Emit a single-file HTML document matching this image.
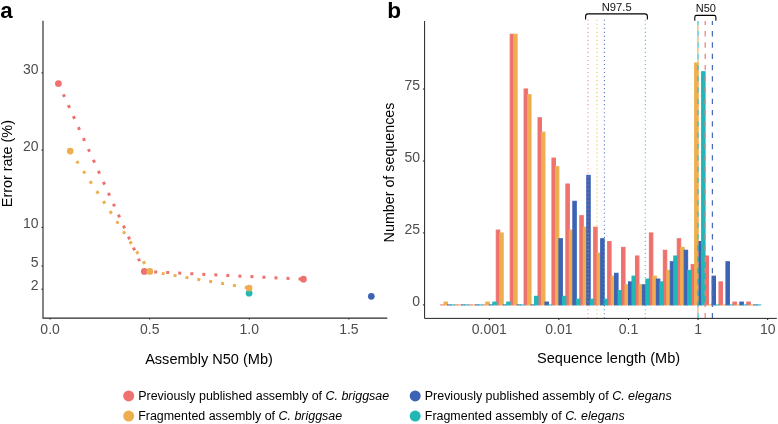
<!DOCTYPE html>
<html lang="en"><head><meta charset="utf-8"><title>Figure</title>
<style>html,body{margin:0;padding:0;background:#fff}svg{display:block}text{font-family:"Liberation Sans",Arial,Helvetica,sans-serif}</style></head><body>
<svg width="778" height="424" viewBox="0 0 778 424">
<rect width="778" height="424" fill="#fff"/>
<text x="0.2" y="17.7" font-size="22.3" font-weight="bold" fill="#000">a</text>
<text x="387.3" y="17.6" font-size="22.6" font-weight="bold" fill="#000">b</text>
<path d="M43 20.8V318.1H387.3" fill="none" stroke="#2a2a2a" stroke-width="1.15"/>
<path d="M41.4 72.9H43" stroke="#2a2a2a" stroke-width="1"/>
<text x="38.6" y="73.8" font-size="14" text-anchor="end" fill="#4d4d4d">30</text>
<path d="M41.4 150.1H43" stroke="#2a2a2a" stroke-width="1"/>
<text x="38.6" y="151.0" font-size="14" text-anchor="end" fill="#4d4d4d">20</text>
<path d="M41.4 227.4H43" stroke="#2a2a2a" stroke-width="1"/>
<text x="38.6" y="228.3" font-size="14" text-anchor="end" fill="#4d4d4d">10</text>
<path d="M41.4 266.0H43" stroke="#2a2a2a" stroke-width="1"/>
<text x="38.6" y="266.9" font-size="14" text-anchor="end" fill="#4d4d4d">5</text>
<path d="M41.4 289.2H43" stroke="#2a2a2a" stroke-width="1"/>
<text x="38.6" y="290.1" font-size="14" text-anchor="end" fill="#4d4d4d">2</text>
<path d="M50.1 318V319.6" stroke="#2a2a2a" stroke-width="1"/>
<text x="50.1" y="334.3" font-size="14" text-anchor="middle" fill="#4d4d4d">0.0</text>
<path d="M149.7 318V319.6" stroke="#2a2a2a" stroke-width="1"/>
<text x="149.7" y="334.3" font-size="14" text-anchor="middle" fill="#4d4d4d">0.5</text>
<path d="M249.3 318V319.6" stroke="#2a2a2a" stroke-width="1"/>
<text x="249.3" y="334.3" font-size="14" text-anchor="middle" fill="#4d4d4d">1.0</text>
<path d="M348.9 318V319.6" stroke="#2a2a2a" stroke-width="1"/>
<text x="348.9" y="334.3" font-size="14" text-anchor="middle" fill="#4d4d4d">1.5</text>
<text transform="translate(12.4 207.2) rotate(-90)" font-size="14.4" fill="#000">Error rate (%)</text>
<text x="209" y="363.6" font-size="14.55" text-anchor="middle" fill="#000">Assembly N50 (Mb)</text>
<path d="M58.4 83.5L144.3 271.4L303.4 279.2" fill="none" stroke="#EF716E" stroke-width="3" stroke-dasharray="3 9.04" stroke-dashoffset="0.2"/>
<path d="M70.2 151.1L149.8 271.4L249.1 288" fill="none" stroke="#EEAE50" stroke-width="3" stroke-dasharray="3 9.04" stroke-dashoffset="0.2"/>
<circle cx="58.4" cy="83.5" r="3.35" fill="#EF716E"/>
<circle cx="144.3" cy="271.4" r="3.35" fill="#EF716E"/>
<circle cx="303.4" cy="279.2" r="3.35" fill="#EF716E"/>
<circle cx="371.3" cy="296.3" r="3.35" fill="#3C63B4"/>
<circle cx="249.1" cy="293.2" r="3.35" fill="#21B7B7"/>
<circle cx="70.2" cy="151.1" r="3.35" fill="#EEAE50"/>
<circle cx="149.8" cy="271.4" r="3.35" fill="#EEAE50"/>
<circle cx="249.1" cy="288.0" r="3.35" fill="#EEAE50"/>
<g stroke-width="1">
<rect x="440.58" y="304.91" width="3.48" height="0.02" fill="#EF716E" stroke="#EF716E"/>
<rect x="454.50" y="304.91" width="3.48" height="0.02" fill="#EF716E" stroke="#EF716E"/>
<rect x="468.42" y="304.91" width="3.48" height="0.02" fill="#EF716E" stroke="#EF716E"/>
<rect x="482.34" y="304.91" width="3.48" height="0.02" fill="#EF716E" stroke="#EF716E"/>
<rect x="496.26" y="230.06" width="3.48" height="74.87" fill="#EF716E" stroke="#EF716E"/>
<rect x="510.18" y="34.25" width="3.48" height="270.68" fill="#EF716E" stroke="#EF716E"/>
<rect x="524.10" y="88.96" width="3.48" height="215.97" fill="#EF716E" stroke="#EF716E"/>
<rect x="538.02" y="117.76" width="3.48" height="187.17" fill="#EF716E" stroke="#EF716E"/>
<rect x="551.94" y="158.07" width="3.48" height="146.86" fill="#EF716E" stroke="#EF716E"/>
<rect x="565.86" y="183.99" width="3.48" height="120.94" fill="#EF716E" stroke="#EF716E"/>
<rect x="579.78" y="215.66" width="3.48" height="89.27" fill="#EF716E" stroke="#EF716E"/>
<rect x="593.70" y="227.18" width="3.48" height="77.75" fill="#EF716E" stroke="#EF716E"/>
<rect x="607.62" y="241.58" width="3.48" height="63.35" fill="#EF716E" stroke="#EF716E"/>
<rect x="621.54" y="247.34" width="3.48" height="57.59" fill="#EF716E" stroke="#EF716E"/>
<rect x="635.46" y="255.98" width="3.48" height="48.95" fill="#EF716E" stroke="#EF716E"/>
<rect x="649.38" y="232.94" width="3.48" height="71.99" fill="#EF716E" stroke="#EF716E"/>
<rect x="663.30" y="250.22" width="3.48" height="54.71" fill="#EF716E" stroke="#EF716E"/>
<rect x="677.22" y="238.70" width="3.48" height="66.23" fill="#EF716E" stroke="#EF716E"/>
<rect x="691.14" y="264.62" width="3.48" height="40.31" fill="#EF716E" stroke="#EF716E"/>
<rect x="705.06" y="255.98" width="3.48" height="48.95" fill="#EF716E" stroke="#EF716E"/>
<rect x="718.98" y="281.89" width="3.48" height="23.04" fill="#EF716E" stroke="#EF716E"/>
<rect x="732.90" y="302.05" width="3.48" height="2.88" fill="#EF716E" stroke="#EF716E"/>
<rect x="746.82" y="302.05" width="3.48" height="2.88" fill="#EF716E" stroke="#EF716E"/>
<rect x="444.06" y="302.05" width="3.48" height="2.88" fill="#EEAE50" stroke="#EEAE50"/>
<rect x="457.98" y="304.91" width="3.48" height="0.02" fill="#EEAE50" stroke="#EEAE50"/>
<rect x="471.90" y="304.91" width="3.48" height="0.02" fill="#EEAE50" stroke="#EEAE50"/>
<rect x="485.82" y="302.05" width="3.48" height="2.88" fill="#EEAE50" stroke="#EEAE50"/>
<rect x="499.74" y="232.94" width="3.48" height="71.99" fill="#EEAE50" stroke="#EEAE50"/>
<rect x="513.66" y="34.25" width="3.48" height="270.68" fill="#EEAE50" stroke="#EEAE50"/>
<rect x="527.58" y="94.72" width="3.48" height="210.21" fill="#EEAE50" stroke="#EEAE50"/>
<rect x="541.50" y="132.15" width="3.48" height="172.78" fill="#EEAE50" stroke="#EEAE50"/>
<rect x="555.42" y="166.71" width="3.48" height="138.22" fill="#EEAE50" stroke="#EEAE50"/>
<rect x="569.34" y="230.06" width="3.48" height="74.87" fill="#EEAE50" stroke="#EEAE50"/>
<rect x="583.26" y="227.18" width="3.48" height="77.75" fill="#EEAE50" stroke="#EEAE50"/>
<rect x="597.18" y="253.10" width="3.48" height="51.83" fill="#EEAE50" stroke="#EEAE50"/>
<rect x="611.10" y="276.13" width="3.48" height="28.80" fill="#EEAE50" stroke="#EEAE50"/>
<rect x="625.02" y="284.77" width="3.48" height="20.16" fill="#EEAE50" stroke="#EEAE50"/>
<rect x="638.94" y="284.77" width="3.48" height="20.16" fill="#EEAE50" stroke="#EEAE50"/>
<rect x="652.86" y="276.13" width="3.48" height="28.80" fill="#EEAE50" stroke="#EEAE50"/>
<rect x="666.78" y="270.37" width="3.48" height="34.56" fill="#EEAE50" stroke="#EEAE50"/>
<rect x="680.70" y="247.34" width="3.48" height="57.59" fill="#EEAE50" stroke="#EEAE50"/>
<rect x="694.62" y="63.04" width="3.48" height="241.89" fill="#EEAE50" stroke="#EEAE50"/>
<rect x="708.54" y="304.91" width="3.48" height="0.02" fill="#EEAE50" stroke="#EEAE50"/>
<rect x="722.46" y="304.91" width="3.48" height="0.02" fill="#EEAE50" stroke="#EEAE50"/>
<rect x="736.38" y="304.91" width="3.48" height="0.02" fill="#EEAE50" stroke="#EEAE50"/>
<rect x="750.30" y="304.91" width="3.48" height="0.02" fill="#EEAE50" stroke="#EEAE50"/>
<rect x="447.54" y="304.91" width="3.48" height="0.02" fill="#3C63B4" stroke="#3C63B4"/>
<rect x="461.46" y="304.91" width="3.48" height="0.02" fill="#3C63B4" stroke="#3C63B4"/>
<rect x="475.38" y="304.91" width="3.48" height="0.02" fill="#3C63B4" stroke="#3C63B4"/>
<rect x="489.30" y="304.91" width="3.48" height="0.02" fill="#3C63B4" stroke="#3C63B4"/>
<rect x="503.22" y="304.91" width="3.48" height="0.02" fill="#3C63B4" stroke="#3C63B4"/>
<rect x="517.14" y="304.91" width="3.48" height="0.02" fill="#3C63B4" stroke="#3C63B4"/>
<rect x="531.06" y="304.91" width="3.48" height="0.02" fill="#3C63B4" stroke="#3C63B4"/>
<rect x="544.98" y="302.05" width="3.48" height="2.88" fill="#3C63B4" stroke="#3C63B4"/>
<rect x="558.90" y="238.70" width="3.48" height="66.23" fill="#3C63B4" stroke="#3C63B4"/>
<rect x="572.82" y="201.26" width="3.48" height="103.67" fill="#3C63B4" stroke="#3C63B4"/>
<rect x="586.74" y="175.35" width="3.48" height="129.58" fill="#3C63B4" stroke="#3C63B4"/>
<rect x="600.66" y="238.70" width="3.48" height="66.23" fill="#3C63B4" stroke="#3C63B4"/>
<rect x="614.58" y="273.25" width="3.48" height="31.68" fill="#3C63B4" stroke="#3C63B4"/>
<rect x="628.50" y="281.89" width="3.48" height="23.04" fill="#3C63B4" stroke="#3C63B4"/>
<rect x="642.42" y="284.77" width="3.48" height="20.16" fill="#3C63B4" stroke="#3C63B4"/>
<rect x="656.34" y="279.01" width="3.48" height="25.92" fill="#3C63B4" stroke="#3C63B4"/>
<rect x="670.26" y="261.74" width="3.48" height="43.19" fill="#3C63B4" stroke="#3C63B4"/>
<rect x="684.18" y="250.22" width="3.48" height="54.71" fill="#3C63B4" stroke="#3C63B4"/>
<rect x="698.10" y="241.58" width="3.48" height="63.35" fill="#3C63B4" stroke="#3C63B4"/>
<rect x="712.02" y="276.13" width="3.48" height="28.80" fill="#3C63B4" stroke="#3C63B4"/>
<rect x="725.94" y="261.74" width="3.48" height="43.19" fill="#3C63B4" stroke="#3C63B4"/>
<rect x="739.86" y="302.05" width="3.48" height="2.88" fill="#3C63B4" stroke="#3C63B4"/>
<rect x="753.78" y="304.91" width="3.48" height="0.02" fill="#3C63B4" stroke="#3C63B4"/>
<rect x="451.02" y="304.91" width="3.48" height="0.02" fill="#21B7B7" stroke="#21B7B7"/>
<rect x="464.94" y="304.91" width="3.48" height="0.02" fill="#21B7B7" stroke="#21B7B7"/>
<rect x="478.86" y="304.91" width="3.48" height="0.02" fill="#21B7B7" stroke="#21B7B7"/>
<rect x="492.78" y="302.05" width="3.48" height="2.88" fill="#21B7B7" stroke="#21B7B7"/>
<rect x="506.70" y="302.05" width="3.48" height="2.88" fill="#21B7B7" stroke="#21B7B7"/>
<rect x="520.62" y="304.91" width="3.48" height="0.02" fill="#21B7B7" stroke="#21B7B7"/>
<rect x="534.54" y="296.29" width="3.48" height="8.64" fill="#21B7B7" stroke="#21B7B7"/>
<rect x="548.46" y="304.91" width="3.48" height="0.02" fill="#21B7B7" stroke="#21B7B7"/>
<rect x="562.38" y="296.29" width="3.48" height="8.64" fill="#21B7B7" stroke="#21B7B7"/>
<rect x="576.30" y="299.17" width="3.48" height="5.76" fill="#21B7B7" stroke="#21B7B7"/>
<rect x="590.22" y="299.17" width="3.48" height="5.76" fill="#21B7B7" stroke="#21B7B7"/>
<rect x="604.14" y="299.17" width="3.48" height="5.76" fill="#21B7B7" stroke="#21B7B7"/>
<rect x="618.06" y="290.53" width="3.48" height="14.40" fill="#21B7B7" stroke="#21B7B7"/>
<rect x="631.98" y="276.13" width="3.48" height="28.80" fill="#21B7B7" stroke="#21B7B7"/>
<rect x="645.90" y="279.01" width="3.48" height="25.92" fill="#21B7B7" stroke="#21B7B7"/>
<rect x="659.82" y="281.89" width="3.48" height="23.04" fill="#21B7B7" stroke="#21B7B7"/>
<rect x="673.74" y="255.98" width="3.48" height="48.95" fill="#21B7B7" stroke="#21B7B7"/>
<rect x="687.66" y="270.37" width="3.48" height="34.56" fill="#21B7B7" stroke="#21B7B7"/>
<rect x="701.58" y="71.68" width="3.48" height="233.25" fill="#21B7B7" stroke="#21B7B7"/>
<rect x="715.50" y="304.91" width="3.48" height="0.02" fill="#21B7B7" stroke="#21B7B7"/>
<rect x="729.42" y="304.91" width="3.48" height="0.02" fill="#21B7B7" stroke="#21B7B7"/>
<rect x="743.34" y="304.91" width="3.48" height="0.02" fill="#21B7B7" stroke="#21B7B7"/>
<rect x="757.26" y="304.91" width="3.48" height="0.02" fill="#21B7B7" stroke="#21B7B7"/>
</g>
<path d="M588.0 19.7V318" stroke="#EF716E" stroke-width="1.15" stroke-dasharray="1.15 2.87" opacity="0.8"/>
<path d="M597.0 19.7V318" stroke="#EEAE50" stroke-width="1.15" stroke-dasharray="1.15 2.87" opacity="0.8"/>
<path d="M604.4 19.7V318" stroke="#3C63B4" stroke-width="1.15" stroke-dasharray="1.15 2.87" opacity="0.8"/>
<path d="M645.3 19.7V318" stroke="#21B7B7" stroke-width="1.15" stroke-dasharray="1.15 2.87" opacity="0.8"/>
<path d="M697.9 21.1V318" stroke="#F2B55E" stroke-width="1.25" stroke-dasharray="5.98 5.3" stroke-dashoffset="7.28"/>
<path d="M698.0 21.1V318" stroke="#35C2C5" stroke-width="1.25" stroke-dasharray="5.3 5.98" stroke-dashoffset="1.3"/>
<path d="M705.2 21.1V318" stroke="#F07F80" stroke-width="1.25" stroke-dasharray="5.3 5.98" stroke-dashoffset="1.3"/>
<path d="M712.4 21.1V318" stroke="#4C6CBB" stroke-width="1.25" stroke-dasharray="5.3 5.98" stroke-dashoffset="1.3"/>
<path d="M424.6 21V318.4H776.8" fill="none" stroke="#222" stroke-width="1"/>
<path d="M422.9 304.9H424.4" stroke="#222" stroke-width="1"/>
<text x="420.1" y="305.8" font-size="14" text-anchor="end" fill="#4d4d4d">0</text>
<path d="M422.9 232.9H424.4" stroke="#222" stroke-width="1"/>
<text x="420.1" y="233.8" font-size="14" text-anchor="end" fill="#4d4d4d">25</text>
<path d="M422.9 161.0H424.4" stroke="#222" stroke-width="1"/>
<text x="420.1" y="161.9" font-size="14" text-anchor="end" fill="#4d4d4d">50</text>
<path d="M422.9 89.0H424.4" stroke="#222" stroke-width="1"/>
<text x="420.1" y="89.9" font-size="14" text-anchor="end" fill="#4d4d4d">75</text>
<path d="M489.3 318.4V320" stroke="#222" stroke-width="1"/>
<text x="489.3" y="333.9" font-size="14" text-anchor="middle" fill="#4d4d4d">0.001</text>
<path d="M558.9 318.4V320" stroke="#222" stroke-width="1"/>
<text x="558.9" y="333.9" font-size="14" text-anchor="middle" fill="#4d4d4d">0.01</text>
<path d="M628.5 318.4V320" stroke="#222" stroke-width="1"/>
<text x="628.5" y="333.9" font-size="14" text-anchor="middle" fill="#4d4d4d">0.1</text>
<path d="M698.1 318.4V320" stroke="#222" stroke-width="1"/>
<text x="698.1" y="333.9" font-size="14" text-anchor="middle" fill="#4d4d4d">1</text>
<path d="M767.7 318.4V320" stroke="#222" stroke-width="1"/>
<text x="767.7" y="333.9" font-size="14" text-anchor="middle" fill="#4d4d4d">10</text>
<text transform="translate(394.2 242.4) rotate(-90)" font-size="14.3" fill="#000">Number of sequences</text>
<text x="608.6" y="362.8" font-size="14.55" text-anchor="middle" fill="#000">Sequence length (Mb)</text>
<path d="M585.6 19.6V16.4Q585.6 13.9 588.1 13.9H644.9Q647.4 13.9 647.4 16.4V19.6" fill="none" stroke="#000" stroke-width="1.1"/>
<text x="616.7" y="10.5" font-size="11.2" text-anchor="middle" fill="#111">N97.5</text>
<path d="M694.8 20.7V17.2Q694.8 15.4 696.6 15.4H714.1Q715.9 15.4 715.9 17.2V20.7" fill="none" stroke="#000" stroke-width="1.1"/>
<text x="705.8" y="12" font-size="11" text-anchor="middle" fill="#111">N50</text>
<circle cx="128.7" cy="395.9" r="5.5" fill="#EF716E"/>
<circle cx="128.7" cy="416.1" r="5.5" fill="#EEAE50"/>
<circle cx="415.2" cy="395.9" r="5.5" fill="#3C63B4"/>
<circle cx="415.2" cy="416.1" r="5.5" fill="#21B7B7"/>
<text x="138.2" y="400.2" font-size="12.45" fill="#000">Previously published assembly of <tspan font-style="italic">C. briggsae</tspan></text>
<text x="138.2" y="420.2" font-size="12.45" fill="#000">Fragmented assembly of <tspan font-style="italic">C. briggsae</tspan></text>
<text x="424.8" y="400.2" font-size="12.45" fill="#000">Previously published assembly of <tspan font-style="italic">C. elegans</tspan></text>
<text x="424.8" y="420.2" font-size="12.45" fill="#000">Fragmented assembly of <tspan font-style="italic">C. elegans</tspan></text>
</svg></body></html>
